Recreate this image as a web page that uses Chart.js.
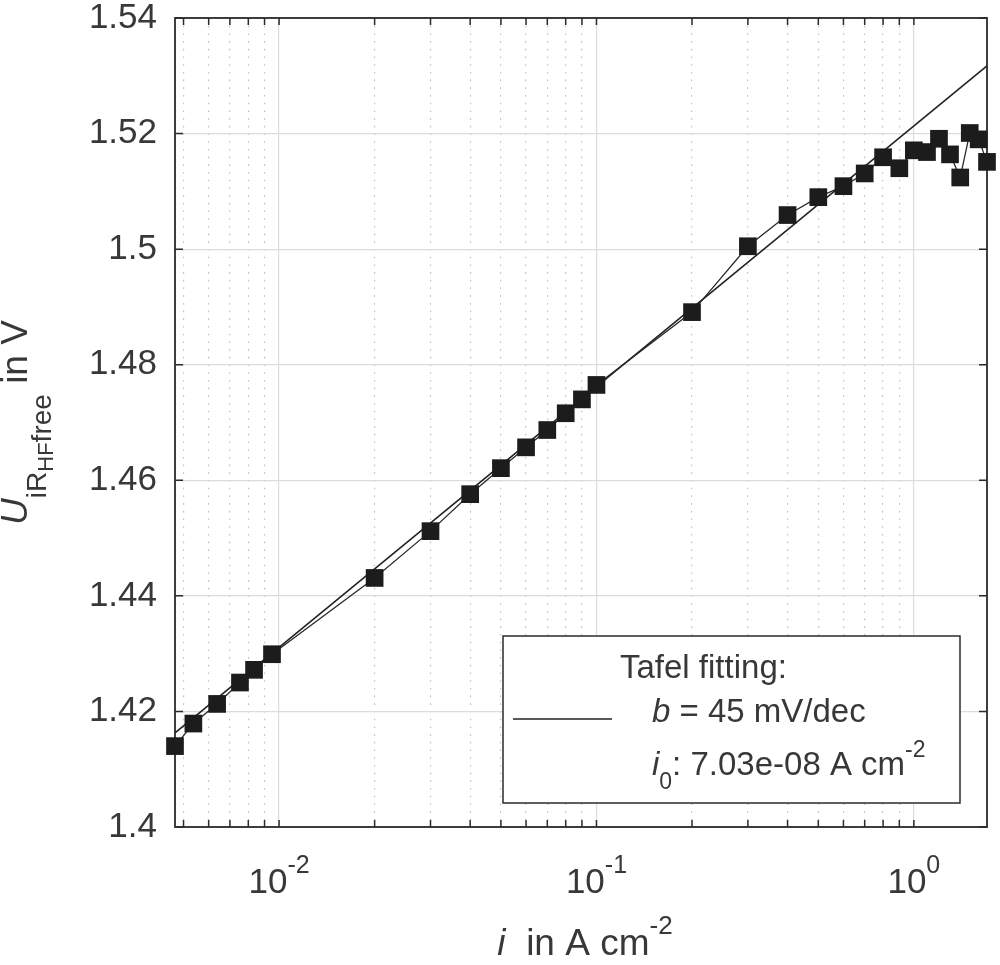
<!DOCTYPE html>
<html lang="en">
<head>
<meta charset="UTF-8">
<title>Tafel plot</title>
<script src="https://cdn.jsdelivr.net/npm/chart.js"></script>
<style>
  html, body { margin: 0; padding: 0; background: #fff; }
  canvas { display: block; }
</style>
</head>
<body>
<canvas id="tafelChart" width="1000" height="965"></canvas>
<script>
// measured points: current density in A cm^-2 and iR-free potential in V
const currentDensity = [0.0047, 0.00537, 0.00638, 0.00753, 0.00834, 0.0095,
  0.02, 0.03, 0.04, 0.05, 0.06, 0.07, 0.08, 0.09, 0.1,
  0.2, 0.3, 0.4, 0.5, 0.6, 0.7, 0.8, 0.9, 1.0,
  1.1, 1.2, 1.3, 1.4, 1.5, 1.6, 1.7];
const potential = [1.4140, 1.4179, 1.4213, 1.4250, 1.4272, 1.4299,
  1.4431, 1.4512, 1.4576, 1.4621, 1.4657, 1.4687, 1.4716, 1.4740, 1.4765,
  1.4891, 1.5005, 1.5059, 1.5090, 1.5109, 1.5131, 1.5159, 1.5140, 1.5171,
  1.5168, 1.5191, 1.5164, 1.5124, 1.5201, 1.5190, 1.5151];

// Tafel fit line (end points)
const fitCurrent = [0.0047, 1.7];
const fitPotential = [1.4163, 1.5317];

// ticks
const xMajorTicks = [0.01, 0.1, 1];
const xTickExponents = ['-2', '-1', '0'];
const xMinorTicks = [0.005, 0.006, 0.007, 0.008, 0.009,
  0.02, 0.03, 0.04, 0.05, 0.06, 0.07, 0.08, 0.09,
  0.2, 0.3, 0.4, 0.5, 0.6, 0.7, 0.8, 0.9];
const yTicks = [1.4, 1.42, 1.44, 1.46, 1.48, 1.5, 1.52, 1.54];
const yTickLabels = ['1.4', '1.42', '1.44', '1.46', '1.48', '1.5', '1.52', '1.54'];

const FONT = "'Liberation Sans', Arial, Helvetica, sans-serif";
const TEXT = '#383838';

// draw a row of text pieces (for sub/superscripts), returns total width
function runsWidth(ctx, runs) {
    let w = 0;
    runs.forEach(r => { ctx.font = r.font; w += ctx.measureText(r.text).width; });
    return w;
}
function drawRuns(ctx, runs, x, y) {
    runs.forEach(r => {
        ctx.font = r.font;
        ctx.fillText(r.text, x, y + (r.dy || 0));
        x += ctx.measureText(r.text).width;
    });
}

const tafelDecor = {
    id: 'tafelDecor',
    beforeDatasetsDraw(chart) {
        const { ctx, chartArea: a, scales } = chart;
        const xs = scales.x, ys = scales.y;
        ctx.save();

        // box around the axes
        ctx.strokeStyle = '#2b2b2b';
        ctx.lineWidth = 1.8;
        ctx.strokeRect(a.left, a.top, a.right - a.left, a.bottom - a.top);

        // inward tick marks on all four sides
        ctx.lineWidth = 1.5;
        ctx.beginPath();
        xMajorTicks.concat(xMinorTicks).forEach(v => {
            const px = xs.getPixelForValue(v);
            ctx.moveTo(px, a.bottom); ctx.lineTo(px, a.bottom - 7);
            ctx.moveTo(px, a.top); ctx.lineTo(px, a.top + 7);
        });
        yTicks.forEach(v => {
            const py = ys.getPixelForValue(v);
            ctx.moveTo(a.left, py); ctx.lineTo(a.left + 8, py);
            ctx.moveTo(a.right, py); ctx.lineTo(a.right - 8, py);
        });
        ctx.stroke();

        ctx.fillStyle = TEXT;
        ctx.textBaseline = 'alphabetic';
        ctx.textAlign = 'left';

        // x tick labels 10^n
        xMajorTicks.forEach((v, i) => {
            const runs = [
                { text: '10', font: '35px ' + FONT },
                { text: xTickExponents[i], font: '25px ' + FONT, dy: -20 }
            ];
            const w = runsWidth(ctx, runs);
            drawRuns(ctx, runs, xs.getPixelForValue(v) - w / 2, 893);
        });

        // x axis title
        const xTitle = [
            { text: 'i', font: 'italic 37px ' + FONT },
            { text: '  in A cm', font: '37px ' + FONT },
            { text: '-2', font: '26px ' + FONT, dy: -21 }
        ];
        const xw = runsWidth(ctx, xTitle);
        drawRuns(ctx, xTitle, (a.left + a.right) / 2 - xw / 2 + 4, 955);

        // y axis title, rotated
        const yTitle = [
            { text: 'U', font: 'italic 37px ' + FONT },
            { text: 'iR', font: '28px ' + FONT, dy: 19 },
            { text: 'HF', font: '22px ' + FONT, dy: 26 },
            { text: 'free', font: '28px ' + FONT, dy: 24 },
            { text: ' in V', font: '37px ' + FONT }
        ];
        ctx.save();
        ctx.translate(27, (a.top + a.bottom) / 2);
        ctx.rotate(-Math.PI / 2);
        const yw = runsWidth(ctx, yTitle);
        drawRuns(ctx, yTitle, -yw / 2, 0);
        ctx.restore();

        ctx.restore();
    },
    afterDraw(chart) {
        const { ctx } = chart;
        ctx.save();
        // legend box
        ctx.fillStyle = '#ffffff';
        ctx.fillRect(503, 636, 457, 167);
        ctx.strokeStyle = '#2b2b2b';
        ctx.lineWidth = 1.5;
        ctx.strokeRect(503, 636, 457, 167);
        // legend sample line
        ctx.strokeStyle = '#222';
        ctx.lineWidth = 1.5;
        ctx.beginPath();
        ctx.moveTo(513, 719);
        ctx.lineTo(612, 719);
        ctx.stroke();

        ctx.fillStyle = TEXT;
        ctx.textAlign = 'left';
        ctx.textBaseline = 'alphabetic';
        drawRuns(ctx, [{ text: 'Tafel fitting:', font: '33px ' + FONT }], 620, 678);
        drawRuns(ctx, [
            { text: 'b', font: 'italic 33px ' + FONT },
            { text: ' = 45 mV/dec', font: '33px ' + FONT }
        ], 652, 722);
        drawRuns(ctx, [
            { text: 'i', font: 'italic 33px ' + FONT },
            { text: '0', font: '23px ' + FONT, dy: 14 },
            { text: ': 7.03e-08 A cm', font: '33px ' + FONT },
            { text: '-2', font: '23px ' + FONT, dy: -18 }
        ], 652, 775);
        ctx.restore();
    }
};

const ctx = document.getElementById('tafelChart').getContext('2d');

new Chart(ctx, {
    type: 'line',
    data: {
        datasets: [{
            label: 'Measured',
            data: currentDensity.map((c, i) => ({ x: c, y: potential[i] })),
            borderColor: '#2a2a2a',
            borderWidth: 1.3,
            pointStyle: 'rect',
            pointRadius: 12.5,
            pointHoverRadius: 12.5,
            pointBackgroundColor: '#1c1c1c',
            pointBorderColor: '#1c1c1c',
            pointBorderWidth: 0,
            tension: 0,
            fill: false,
            clip: false
        }, {
            label: 'Tafel fitting',
            data: fitCurrent.map((c, i) => ({ x: c, y: fitPotential[i] })),
            borderColor: '#222222',
            borderWidth: 1.6,
            pointRadius: 0,
            fill: false,
            clip: false
        }]
    },
    options: {
        responsive: false,
        animation: false,
        events: [],
        layout: { padding: { top: 18, right: 13, bottom: 0, left: 0 } },
        plugins: {
            legend: { display: false },
            tooltip: { enabled: false }
        },
        scales: {
            x: {
                type: 'logarithmic',
                position: 'bottom',
                min: 0.0047,
                max: 1.7,
                afterBuildTicks: s => { s.ticks = xMajorTicks.map(v => ({ value: v })); },
                afterFit: s => { s.height = 138; s.paddingLeft = 0; s.paddingRight = 0; },
                ticks: { display: false },
                grid: { color: '#dcdcdc', lineWidth: 1.2, drawTicks: false },
                border: { display: false }
            },
            xMinor: {
                type: 'logarithmic',
                position: 'bottom',
                min: 0.0047,
                max: 1.7,
                afterBuildTicks: s => { s.ticks = xMinorTicks.map(v => ({ value: v })); },
                afterFit: s => { s.height = 0; s.paddingLeft = 0; s.paddingRight = 0; },
                ticks: { display: false },
                grid: { color: '#c2c2c2', lineWidth: 1.2, drawTicks: false },
                border: { display: false, dash: [1.6, 6.1] }
            },
            y: {
                type: 'linear',
                min: 1.4,
                max: 1.54,
                afterBuildTicks: s => { s.ticks = yTicks.map(v => ({ value: v })); },
                afterFit: s => { s.width = 175; s.paddingTop = 0; s.paddingBottom = 0; },
                ticks: {
                    color: TEXT,
                    padding: 18,
                    font: { family: FONT, size: 35 },
                    callback: (v, i) => yTickLabels[i]
                },
                grid: { color: '#dcdcdc', lineWidth: 1.2, drawTicks: false },
                border: { display: false }
            }
        }
    },
    plugins: [tafelDecor]
});
</script>
</body>
</html>
